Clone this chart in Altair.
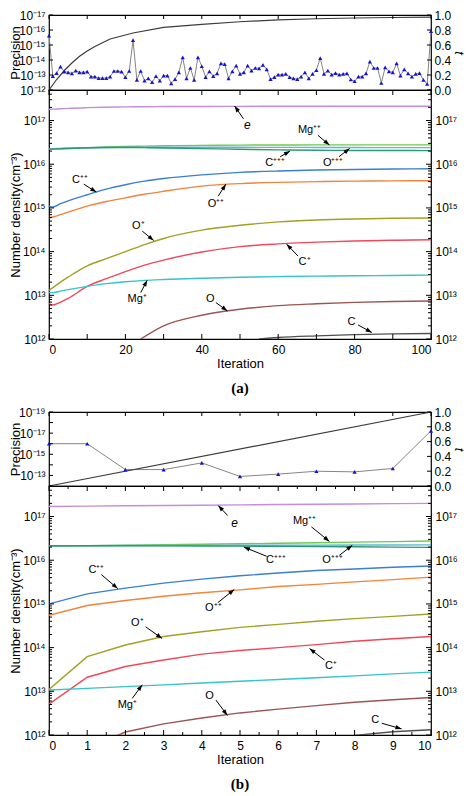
import math
import altair as alt
import pandas as pd

FONT = "Liberation Sans"
SERIF = "Liberation Serif"
W = 382
HT_A = 75
HT_B = 74
HM = 249
GAP = 73
YMIN, YMAX = 1e12, 5e17

SPECIES = ["e", "Mg++", "O+++", "C+++", "C++", "O++", "O+", "C+", "Mg+", "O", "C"]
COLORS = ["#c48de0", "#72c84c", "#62b6d6", "#2a9a74", "#3a7fd0", "#f0843a",
          "#a3a024", "#f0485a", "#36c4c8", "#9c5454", "#505050"]

# ---------------- panel (a): precision (blue triangles) and t ----------------
a_prec_iter = list(range(0, 101))
a_prec = [2.4e-16, 1.2e-13, 7.4e-14, 2.8e-14, 6.0e-14, 6.6e-14, 7.8e-14, 5.1e-14, 6.6e-14, 6.6e-14,
          6.0e-14, 1.3e-13, 1.3e-13, 1.6e-13, 1.6e-13, 1.6e-13, 1.3e-13, 5.4e-14, 5.4e-14, 6.0e-14,
          1.4e-13, 5.4e-14, 4.7e-16, 2.1e-13, 5.4e-14, 2.4e-13, 1.7e-13, 3.0e-13, 1.2e-13, 2.4e-13,
          1.1e-13, 1.1e-13, 3.6e-13, 1.9e-13, 6.6e-14, 6.6e-15, 1.7e-13, 3.4e-14, 2.1e-13, 6.6e-15,
          2.6e-14, 1.4e-13, 5.8e-14, 1.2e-13, 7.8e-14, 1.7e-14, 1.9e-14, 1.7e-13, 5.8e-14, 2.4e-14,
          8.5e-14, 6.6e-14, 2.4e-14, 5.1e-14, 3.4e-14, 3.6e-14, 2.1e-14, 4.2e-14, 1.9e-13, 1.4e-13,
          9.5e-14, 9.5e-14, 8.5e-14, 1.4e-13, 1.7e-13, 1.9e-13, 1.3e-13, 6.6e-14, 1.7e-13, 8.5e-14,
          4.7e-14, 7.4e-15, 8.5e-14, 5.1e-14, 9.5e-14, 7.4e-14, 9.5e-14, 8.5e-14, 7.8e-14, 2.0e-13,
          2.6e-13, 1.3e-13, 1.3e-13, 7.8e-14, 1.3e-14, 3.4e-14, 3.4e-14, 3.4e-13, 3.1e-14, 5.8e-14,
          6.6e-14, 1.7e-14, 1.1e-13, 4.2e-14, 7.8e-14, 1.3e-13, 8.5e-14, 7.4e-14, 2.1e-13, 4.0e-13,
          1.2e-16]
a_t_iter = [0, 2, 4, 6, 8, 10, 12, 16, 22, 30, 40, 50, 60, 70, 80, 90, 100]
a_t = [0.0, 0.14, 0.26, 0.36, 0.45, 0.52, 0.58, 0.68, 0.76, 0.835, 0.875, 0.91, 0.935, 0.95, 0.96, 0.967, 0.972]

# ---------------- panel (a): number densities ----------------
a_it = [0, 1, 3, 5, 10, 15, 20, 25, 30, 40, 50, 60, 70, 80, 90, 100]
a_e = [1.80e17, 1.82e17, 1.86e17, 1.90e17, 1.97e17, 2.02e17, 2.05e17, 2.07e17, 2.09e17, 2.10e17, 2.11e17, 2.12e17, 2.12e17, 2.13e17, 2.13e17, 2.13e17]
a_mg2 = [2.20e16, 2.22e16, 2.27e16, 2.30e16, 2.40e16, 2.48e16, 2.55e16, 2.60e16, 2.64e16, 2.70e16, 2.74e16, 2.76e16, 2.77e16, 2.78e16, 2.78e16, 2.78e16]
a_o3 = [2.25e16, 2.27e16, 2.30e16, 2.33e16, 2.38e16, 2.42e16, 2.44e16, 2.45e16, 2.45e16, 2.45e16, 2.44e16, 2.43e16, 2.42e16, 2.41e16, 2.40e16, 2.40e16]
a_c3 = [2.20e16, 2.22e16, 2.27e16, 2.30e16, 2.38e16, 2.42e16, 2.42e16, 2.40e16, 2.36e16, 2.28e16, 2.20e16, 2.13e16, 2.09e16, 2.07e16, 2.06e16, 2.05e16]
a_c2 = [1.10e15, 1.05e15, 1.25e15, 1.45e15, 2.00e15, 2.70e15, 3.40e15, 4.10e15, 4.70e15, 5.70e15, 6.50e15, 7.00e15, 7.35e15, 7.60e15, 7.75e15, 7.90e15]
a_o2 = [6.0e14, 6.2e14, 7.0e14, 8.0e14, 1.1e15, 1.4e15, 1.7e15, 2.05e15, 2.4e15, 3.15e15, 3.6e15, 3.85e15, 4.0e15, 4.1e15, 4.15e15, 4.2e15]
a_o1 = [1.3e13, 1.5e13, 2.0e13, 2.6e13, 4.7e13, 6.9e13, 1.0e14, 1.45e14, 2.0e14, 3.1e14, 4.0e14, 4.8e14, 5.3e14, 5.6e14, 5.8e14, 5.9e14]
a_c1 = [6.5e12, 6.0e12, 7.0e12, 8.5e12, 1.6e13, 2.4e13, 3.5e13, 4.9e13, 6.4e13, 9.8e13, 1.3e14, 1.5e14, 1.65e14, 1.75e14, 1.82e14, 1.87e14]
a_mg1 = [1.15e13, 1.15e13, 1.25e13, 1.35e13, 1.6e13, 1.85e13, 2.05e13, 2.2e13, 2.3e13, 2.45e13, 2.58e13, 2.68e13, 2.75e13, 2.8e13, 2.85e13, 2.9e13]
a_o_it = [24, 30, 40, 50, 60, 70, 80, 90, 100]
a_o0 = [1.0e12, 2.0e12, 3.5e12, 4.8e12, 5.8e12, 6.4e12, 6.9e12, 7.2e12, 7.4e12]
a_c_it = [55, 60, 70, 80, 90, 100]
a_c0 = [1.0e12, 1.08e12, 1.18e12, 1.26e12, 1.31e12, 1.34e12]

# annotations (a): label, label pos, arrow tail, arrow tip
a_lab = ["e", "Mg⁺⁺", "C⁺⁺⁺", "O⁺⁺⁺", "C⁺⁺", "O⁺⁺", "O⁺", "C⁺", "Mg⁺", "O", "C"]
a_lx = [51.9, 68.2, 59.2, 74.4, 8.1, 43.7, 23.4, 66.9, 23.1, 42.2, 79.2]
a_ly = [8.1e16, 6.2e16, 1.07e16, 1.07e16, 4.4e15, 1.26e15, 3.8e14, 5.8e13, 8.1e12, 8.1e12, 2.4e12]
a_tx = [50.9, 70.4, 60.5, 75.9, 9.1, 44.3, 24.4, 65.2, 24.0, 43.7, 80.9]
a_ty = [1.1e17, 4.6e16, 1.48e16, 1.48e16, 3.5e15, 1.86e15, 2.95e14, 7.9e13, 1.15e13, 6.8e12, 2.1e12]
a_hx = [48.6, 73.4, 63.1, 78.7, 12.4, 46.3, 27.4, 62.2, 25.7, 46.7, 84.5]
a_hy = [2.14e17, 2.75e16, 2.0e16, 2.3e16, 2.3e15, 3.5e15, 1.8e14, 1.48e14, 2.2e13, 4.4e12, 1.41e12]

# ---------------- panel (b): precision and t ----------------
b_prec_iter = list(range(0, 11))
b_prec = [1.0e-16, 1.0e-16, 2.8e-14, 2.8e-14, 6.5e-15, 1.25e-13, 7.5e-14, 4.0e-14, 4.6e-14, 2.2e-14, 6.0e-18]
b_t_iter = [0, 10]
b_t = [0.0, 1.0]

# ---------------- panel (b): number densities ----------------
b_it = list(range(0, 11))
b_e = [1.70e17, 1.73e17, 1.76e17, 1.79e17, 1.82e17, 1.85e17, 1.88e17, 1.91e17, 1.94e17, 1.97e17, 2.00e17]
b_mg2 = [2.10e16, 2.15e16, 2.20e16, 2.26e16, 2.32e16, 2.38e16, 2.45e16, 2.52e16, 2.59e16, 2.67e16, 2.75e16]
b_o3 = [2.15e16, 2.16e16, 2.17e16, 2.18e16, 2.19e16, 2.20e16, 2.21e16, 2.22e16, 2.23e16, 2.24e16, 2.25e16]
b_c3 = [2.15e16, 2.15e16, 2.14e16, 2.13e16, 2.12e16, 2.10e16, 2.08e16, 2.06e16, 2.03e16, 2.00e16, 1.97e16]
b_c2 = [1.0e15, 1.7e15, 2.3e15, 3.0e15, 3.7e15, 4.4e15, 5.1e15, 5.8e15, 6.3e15, 6.9e15, 7.4e15]
b_o2 = [5.5e14, 9.2e14, 1.2e15, 1.5e15, 1.8e15, 2.1e15, 2.5e15, 2.8e15, 3.2e15, 3.6e15, 4.1e15]
b_o1 = [1.1e13, 6.2e13, 1.15e14, 1.8e14, 2.3e14, 2.9e14, 3.4e14, 4.0e14, 4.6e14, 5.2e14, 5.9e14]
b_c1 = [5.1e12, 2.1e13, 3.7e13, 5.2e13, 7.1e13, 8.6e13, 1.0e14, 1.17e14, 1.4e14, 1.6e14, 1.8e14]
b_mg1 = [1.07e13, 1.17e13, 1.28e13, 1.40e13, 1.55e13, 1.70e13, 1.87e13, 2.05e13, 2.25e13, 2.50e13, 2.75e13]
b_o_it = [1, 2, 3, 4, 5, 6, 7, 8, 9, 10]
b_o0 = [5.0e11, 1.17e12, 1.8e12, 2.45e12, 3.2e12, 3.9e12, 4.7e12, 5.6e12, 6.4e12, 7.2e12]
b_c_it = [8, 9, 10]
b_c0 = [9.8e11, 1.19e12, 1.32e12]

b_lab = ["e", "Mg⁺⁺", "C⁺⁺⁺", "O⁺⁺⁺", "C⁺⁺", "O⁺⁺", "O⁺", "C⁺", "Mg⁺", "O", "C"]
b_lx = [4.86, 6.69, 5.94, 7.42, 1.24, 4.3, 2.31, 7.38, 2.05, 4.2, 8.54]
b_ly = [7.1e16, 7.9e16, 1.0e16, 1.0e16, 5.9e15, 7.9e14, 3.7e14, 3.8e13, 4.9e12, 7.9e12, 2.2e12]
b_tx = [4.68, 6.87, 5.7, 7.6, 1.37, 4.42, 2.53, 7.21, 2.18, 4.37, 8.71]
b_ty = [1.05e17, 5.8e16, 1.23e16, 1.29e16, 4.7e15, 1.07e15, 3.0e14, 5.2e13, 6.9e12, 6.3e12, 1.86e12]
b_hx = [4.43, 7.34, 5.1, 7.94, 1.8, 4.85, 2.96, 6.82, 2.44, 4.67, 9.23]
b_hy = [1.78e17, 2.7e16, 2.0e16, 2.2e16, 2.24e15, 2.14e15, 1.62e14, 9.5e13, 1.41e13, 2.8e12, 1.38e12]

# ---------------- helpers ----------------
SUP = str.maketrans("0123456789-", "⁰¹²³⁴⁵⁶⁷⁸⁹⁻")


def pow_expr(exps):
    parts = [f"round(log(datum.value)/LN10) == {n} ? '10{str(n).translate(SUP)}' : " for n in exps]
    return "".join(parts) + "''"


ARROW = "M0,0 L0.36,1 L-0.36,1 Z"


def yrules(values, scale, side, length, axis=None):
    x0 = 0 if side == "left" else W - length
    return alt.Chart(pd.DataFrame({"v": values})).mark_rule(color="black", strokeWidth=1).encode(
        y=alt.Y("v:Q", scale=scale, axis=axis),
        x=alt.value(x0), x2=alt.value(x0 + length))


def xrules(values, scale, side, length, h, xaxis=None):
    y0, y1 = (h, h - length) if side == "bottom" else (0, length)
    return alt.Chart(pd.DataFrame({"v": values})).mark_rule(color="black", strokeWidth=1).encode(
        x=alt.X("v:Q", scale=scale, axis=xaxis),
        y=alt.value(y0), y2=alt.value(y1))


def top_panel(p_it, p_val, t_it, t_val, pmin_exp, xmax, xtick_vals, h):
    xs = alt.Scale(domain=[0, xmax], nice=False, zero=False)
    ps = alt.Scale(type="log", domain=[10.0 ** pmin_exp, 1e-12], reverse=True, nice=False)
    ts = alt.Scale(domain=[0, 1], nice=False, zero=False)
    exps = list(range(pmin_exp, -11))
    decs = [10.0 ** n for n in exps]
    pdf = pd.DataFrame({"it": p_it, "p": p_val})
    tdf = pd.DataFrame({"it": t_it, "t": t_val})
    pline = alt.Chart(pdf).mark_line(color="#858585", strokeWidth=1).encode(
        x=alt.X("it:Q", scale=xs, axis=None),
        y=alt.Y("p:Q", scale=ps, axis=alt.Axis(
            orient="left", values=decs, labelExpr=pow_expr(exps), title="Precision",
            labelPadding=4, tickSize=0, titleX=-34, titleY=h / 2, titleBaseline="middle")))
    ppts = alt.Chart(pdf).mark_point(shape="triangle-up", filled=True, color="#1414d2",
                                     size=18, opacity=1).encode(
        x=alt.X("it:Q", scale=xs, axis=None),
        y=alt.Y("p:Q", scale=ps, axis=None))
    pticks = yrules(decs, ps, "left", 4)
    tline = alt.Chart(tdf).mark_line(color="#3c3c3c", strokeWidth=1.2).encode(
        x=alt.X("it:Q", scale=xs, axis=None),
        y=alt.Y("t:Q", scale=ts, axis=alt.Axis(
            orient="right", values=[0, 0.2, 0.4, 0.6, 0.8, 1.0], format=".1f", title="t",
            titleFontStyle="italic", labelPadding=3, tickSize=0, titleX=27, titleY=h / 2,
            titleBaseline="middle")))
    tticks = yrules([0, 0.2, 0.4, 0.6, 0.8, 1.0], ts, "right", 4)
    xt = xrules(xtick_vals, xs, "top", 4, h)
    return alt.layer(pline, tline, ppts, pticks, tticks, xt).resolve_scale(
        y="independent").properties(width=W, height=h)


def main_panel(series, xmax, xlab_vals, xtick_vals, xminor_vals, ann, caption, smooth):
    rows = []
    for name, (its, vals) in series.items():
        for i, v in zip(its, vals):
            rows.append({"it": i, "val": v, "sp": name})
    df = pd.DataFrame(rows)
    xs = alt.Scale(domain=[0, xmax], nice=False, zero=False)
    ys = alt.Scale(type="log", domain=[YMIN, YMAX], nice=False)
    XAX = alt.Axis(orient="bottom", values=xlab_vals, format="d", title="Iteration",
                   labelPadding=5, titlePadding=2, tickSize=0)
    exps = list(range(12, 18))
    decs = [10.0 ** n for n in exps]
    minors = [k * 10.0 ** n for n in range(12, 18) for k in range(2, 10) if k * 10.0 ** n <= YMAX]
    lines = alt.Chart(df).mark_line(strokeWidth=1.4, clip=True,
                                    interpolate="monotone" if smooth else "linear").encode(
        x=alt.X("it:Q", scale=xs, axis=XAX),
        y=alt.Y("val:Q", scale=ys, axis=alt.Axis(
            orient="left", values=decs, labelExpr=pow_expr(exps),
            title="Number density(cm⁻³)", labelPadding=4, tickSize=0,
            titleX=-34, titleY=HM / 2, titleBaseline="middle")),
        color=alt.Color("sp:N", scale=alt.Scale(domain=SPECIES, range=COLORS), legend=None),
        detail="sp:N")
    raxis = yrules(decs, ys, "right", 5, axis=alt.Axis(
        orient="right", values=decs, labelExpr=pow_expr(exps), title=None,
        labelPadding=4, tickSize=0))
    lmaj = yrules(decs, ys, "left", 5)
    lmin = yrules(minors, ys, "left", 3)
    rmin = yrules(minors, ys, "right", 3)
    xb = xrules(xtick_vals, xs, "bottom", 5, HM, XAX)
    xtp = xrules(xtick_vals, xs, "top", 5, HM, XAX)
    layers = [lines, raxis, lmaj, lmin, rmin, xb, xtp]
    if xminor_vals:
        layers += [xrules(xminor_vals, xs, "bottom", 3, HM, XAX),
                   xrules(xminor_vals, xs, "top", 3, HM, XAX)]

    lab, lx, ly, tx, ty, hx, hy = ann
    pxx = W / xmax
    pxd = HM / (math.log10(YMAX) - math.log10(YMIN))
    angs = []
    for i in range(len(lab)):
        dx = (hx[i] - tx[i]) * pxx
        dy = -(math.log10(hy[i]) - math.log10(ty[i])) * pxd
        angs.append(math.degrees(math.atan2(dx, -dy)) % 360)
    adf = pd.DataFrame({"lab": lab, "lx": lx, "ly": ly, "tx": tx, "ty": ty,
                        "hx": hx, "hy": hy, "ang": angs,
                        "ital": [s == "e" for s in lab]})
    shafts = alt.Chart(adf).mark_rule(color="black", strokeWidth=1).encode(
        x=alt.X("tx:Q", scale=xs, axis=XAX), y=alt.Y("ty:Q", scale=ys, axis=None),
        x2="hx:Q", y2="hy:Q")
    heads = alt.Chart(adf).mark_point(shape=ARROW, filled=True, size=150, color="black",
                                      opacity=1, strokeWidth=0).encode(
        x=alt.X("hx:Q", scale=xs, axis=XAX), y=alt.Y("hy:Q", scale=ys, axis=None),
        angle=alt.Angle("ang:Q", scale=None))
    texts = alt.Chart(adf).transform_filter("!datum.ital").mark_text(
        font=FONT, fontSize=11, color="black").encode(
        x=alt.X("lx:Q", scale=xs, axis=XAX), y=alt.Y("ly:Q", scale=ys, axis=None), text="lab:N")
    texte = alt.Chart(adf).transform_filter("datum.ital").mark_text(
        font=FONT, fontSize=12, fontStyle="italic", color="black").encode(
        x=alt.X("lx:Q", scale=xs, axis=XAX), y=alt.Y("ly:Q", scale=ys, axis=None), text="lab:N")
    layers += [shafts, heads, texts, texte]
    return alt.layer(*layers).resolve_axis(y="independent").properties(
        width=W, height=HM,
        title=alt.TitleParams(caption, orient="bottom", anchor="middle", font=SERIF,
                              fontSize=15, fontWeight="bold", color="black", offset=11))


a_series = {"e": (a_it, a_e), "Mg++": (a_it, a_mg2), "O+++": (a_it, a_o3), "C+++": (a_it, a_c3),
            "C++": (a_it, a_c2), "O++": (a_it, a_o2), "O+": (a_it, a_o1), "C+": (a_it, a_c1),
            "Mg+": (a_it, a_mg1), "O": (a_o_it, a_o0), "C": (a_c_it, a_c0)}
b_series = {"e": (b_it, b_e), "Mg++": (b_it, b_mg2), "O+++": (b_it, b_o3), "C+++": (b_it, b_c3),
            "C++": (b_it, b_c2), "O++": (b_it, b_o2), "O+": (b_it, b_o1), "C+": (b_it, b_c1),
            "Mg+": (b_it, b_mg1), "O": (b_o_it, b_o0), "C": (b_c_it, b_c0)}

top_a = top_panel(a_prec_iter, a_prec, a_t_iter, a_t, -17, 100, list(range(0, 101, 10)), HT_A)
main_a = main_panel(a_series, 100, [0, 20, 40, 60, 80, 100], list(range(0, 101, 10)), None,
                    (a_lab, a_lx, a_ly, a_tx, a_ty, a_hx, a_hy), "(a)", True)
top_b = top_panel(b_prec_iter, b_prec, b_t_iter, b_t, -19, 10, list(range(0, 11)), HT_B)
main_b = main_panel(b_series, 10, list(range(0, 11)), list(range(0, 11)),
                    [k + 0.5 for k in range(10)],
                    (b_lab, b_lx, b_ly, b_tx, b_ty, b_hx, b_hy), "(b)", False)

spacer = alt.Chart(pd.DataFrame({"v": [0]})).mark_point(opacity=0).encode(
    x=alt.X("v:Q", axis=None), y=alt.Y("v:Q", axis=None)).properties(
    width=W, height=GAP, view=alt.ViewBackground(strokeOpacity=0, strokeWidth=0))

chart = alt.vconcat(top_a, main_a, spacer, top_b, main_b, spacing=0, bounds="flush").properties(
    padding={"left": 0, "top": 0, "right": 0, "bottom": 0}, background="white"
).configure_view(stroke="black", strokeWidth=1.2).configure_axis(
    domain=False, ticks=False, grid=False, labelFont=FONT, labelFontSize=12, labelColor="black",
    titleFont=FONT, titleFontSize=13, titleFontWeight="normal", titleColor="black")

chart.save("out.html", embed_options={"renderer": "svg", "actions": False})
